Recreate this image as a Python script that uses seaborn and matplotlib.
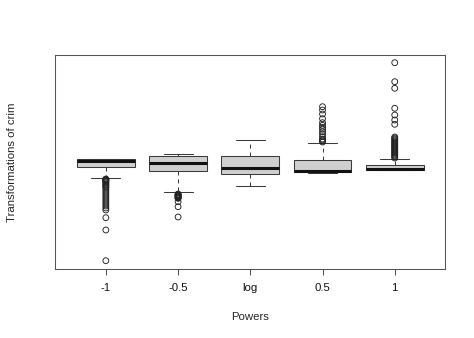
import numpy as np
import pandas as pd
import matplotlib
matplotlib.use("Agg")
import matplotlib.pyplot as plt
import seaborn as sns

# ---- data (arbitrary vertical units) ----
powers = ["-1", "-0.5", "log", "0.5", "1"]

# five-number summaries: lower whisker, Q1, median, Q3, upper whisker
whis_low = [-0.40, -1.115, -0.785, -0.165, 0.00]
q1 = [0.15, -0.065, -0.185, -0.10, 0.00]
median = [0.435, 0.335, 0.10, -0.035, 0.05]
q3 = [0.55, 0.70, 0.715, 0.485, 0.235]
whis_high = [0.565, 0.80, 1.50, 1.335, 0.565]

out_m1 = [-0.45, -0.475, -0.5, -0.525, -0.55, -0.6, -0.65, -0.7, -0.75, -0.8,
          -0.85, -0.9, -1.0, -1.1, -1.2, -1.3, -1.4, -1.5, -1.6, -1.7, -1.8,
          -1.9, -2.0, -2.385, -3.0, -4.535]
out_m05 = [-1.2, -1.225, -1.25, -1.275, -1.3, -1.325, -1.35, -1.375, -1.4,
           -1.415, -1.585, -1.835, -2.35]
out_log = []
out_05 = [3.165, 3.0, 2.8, 2.565, 2.365, 2.235, 2.135, 2.035, 1.915, 1.8,
          1.665, 1.55, 1.5, 1.45, 1.4]
out_1 = [0.6, 0.65, 0.7, 0.75, 0.8, 0.85, 0.9, 0.95, 1.0, 1.05, 1.1, 1.15,
         1.2, 1.25, 1.3, 1.35, 1.4, 1.45, 1.5, 1.55, 1.6, 1.65, 2.285, 2.5,
         2.75, 3.085, 4.085, 4.415, 5.365]
outliers = [out_m1, out_m05, out_log, out_05, out_1]

x_label = "Powers"
y_label = "Transformations of crim"

# ---- tables ----
body_rows = []
for i, p in enumerate(powers):
    for v in (whis_low[i], q1[i], median[i], q3[i], whis_high[i]):
        body_rows.append({"power": p, "value": v})
body = pd.DataFrame(body_rows)

out_rows = []
for p, vals in zip(powers, outliers):
    for v in vals:
        out_rows.append({"power": p, "value": v})
outdf = pd.DataFrame(out_rows)

# ---- style ----
sns.set_theme(style="white")
plt.rcParams["font.family"] = ["Liberation Sans", "DejaVu Sans"]

fig = plt.figure(figsize=(4.74, 3.38), dpi=100)
ax = fig.add_axes([55.3 / 474, 1 - 269 / 338, 390 / 474, 214 / 338])

edge = "#3a3a3a"
lw = 0.75
sns.boxplot(
    data=body, x="power", y="value", order=powers, ax=ax,
    whis=(0, 100), width=0.8, showfliers=False,
    color="#CFCFCF", saturation=1, linecolor=edge, linewidth=lw,
    medianprops={"linewidth": 2.2, "color": "#111111"},
    whiskerprops={"linestyle": (0, (3.8, 3.8)), "linewidth": lw, "color": edge},
    capprops={"linewidth": lw, "color": edge},
    boxprops={"linewidth": lw, "edgecolor": edge},
)
n_before = len(ax.collections)
sns.stripplot(
    data=outdf, x="power", y="value", order=powers, ax=ax,
    jitter=False, size=4.2, color="#222222", linewidth=0.65,
    edgecolor="#222222",
)
for c in ax.collections[n_before:]:
    c.set_facecolor("none")
    c.set_edgecolor("#222222")
    c.set_linewidth(0.65)

ax.set_xlim(-0.7, 4.7)
ax.set_ylim(-4.95, 5.75)
ax.set_yticks([])
ax.set_xlabel(x_label, fontsize=8.2)
ax.set_ylabel(y_label, fontsize=8.2)
ax.xaxis.set_label_coords(0.5, (269 - 317) / 214)
ax.xaxis.label.set_va("center")
ax.yaxis.set_label_coords((12 - 55.3) / 390, 0.5)
ax.yaxis.label.set_va("center")

ax.tick_params(axis="x", bottom=True, length=4.3, width=lw, color="#555555",
               pad=5.5, labelsize=8.2, labelcolor="#111111")
for s in ax.spines.values():
    s.set_visible(True)
    s.set_color("#555555")
    s.set_linewidth(lw)

fig.savefig("out.png", dpi=100)
